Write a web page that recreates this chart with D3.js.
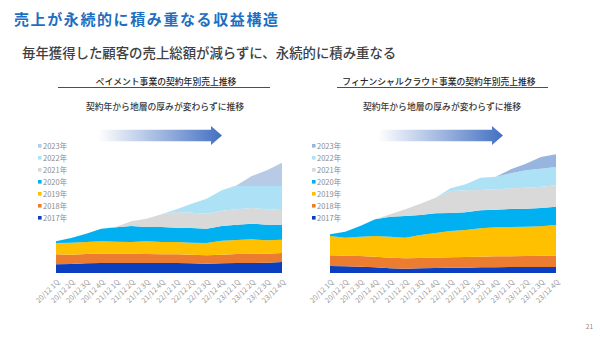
<!DOCTYPE html>
<html lang="ja">
<head>
<meta charset="utf-8">
<script src="https://cdn.jsdelivr.net/npm/d3@7"></script>
<style>
  html, body { margin: 0; padding: 0; background: #fff; }
  svg { display: block; font-family: "Noto Sans CJK JP", "Noto Sans", sans-serif; }
</style>
</head>
<body>
<svg id="page" width="600" height="338"></svg>
<script>
// Quarter labels along the x axis
const quarters = [
  "20/12 1Q", "20/12 2Q", "20/12 3Q", "20/12 4Q",
  "21/12 1Q", "21/12 2Q", "21/12 3Q", "21/12 4Q",
  "22/12 1Q", "22/12 2Q", "22/12 3Q", "22/12 4Q",
  "23/12 1Q", "23/12 2Q", "23/12 3Q", "23/12 4Q"
];

// Contract-year cohorts (stack order, bottom to top)
const cohortYears = ["2017年", "2018年", "2019年", "2020年", "2021年", "2022年", "2023年"];

// Payment business: quarterly revenue by contract-year cohort (relative units)
const pay2017 = [26, 27, 29, 30, 30, 30, 30, 30, 30, 29, 28, 29, 30, 30, 31, 33];
const pay2018 = [30, 28, 28, 28, 28, 28, 27, 26, 26, 26, 25, 26, 27, 28, 27, 27];
const pay2019 = [34, 36, 36, 37, 36, 35, 38, 37, 37, 36, 37, 42, 42, 43, 40, 40];
const pay2020 = [5, 14, 25, 38, 43, 48, 43, 45, 43, 44, 43, 44, 46, 47, 47, 45];
const pay2021 = [0, 0, 0, 0, 2, 14, 25, 38, 47, 46, 45, 46, 46, 47, 46, 44];
const pay2022 = [0, 0, 0, 0, 0, 0, 0, 0, 8, 27, 45, 61, 70, 66, 70, 72];
const pay2023 = [0, 0, 0, 0, 0, 0, 0, 0, 0, 0, 0, 0, 2, 30, 47, 70];

// Financial cloud business: quarterly revenue by contract-year cohort (relative units)
const fin2017 = [21, 20, 19, 17, 14, 13, 14, 15, 16, 16, 17, 17, 18, 18, 18, 18];
const fin2018 = [32, 32, 32, 32, 32, 31, 31, 31, 31, 32, 32, 33, 32, 33, 34, 34];
const fin2019 = [58, 54, 58, 62, 63, 62, 69, 74, 79, 81, 85, 87, 88, 88, 88, 92];
const fin2020 = [5, 18, 32, 50, 60, 65, 60, 59, 54, 53, 54, 53, 54, 54, 55, 55];
const fin2021 = [0, 0, 0, 0, 7, 20, 34, 47, 66, 66, 61, 61, 62, 63, 64, 64];
const fin2022 = [0, 0, 0, 0, 0, 0, 0, 0, 8, 18, 37, 38, 45, 52, 54, 55];
const fin2023 = [0, 0, 0, 0, 0, 0, 0, 0, 0, 0, 0, 0, 12, 20, 35, 38];

// Headings
const pageTitle = "売上が永続的に積み重なる収益構造";
const pageLead = "毎年獲得した顧客の売上総額が減らずに、永続的に積み重なる";
const paymentTitle = "ペイメント事業の契約年別売上推移";
const financeTitle = "フィナンシャルクラウド事業の契約年別売上推移";
const chartNote = "契約年から地層の厚みが変わらずに推移";
const pageNumber = "21";

const paySeries = [pay2017, pay2018, pay2019, pay2020, pay2021, pay2022, pay2023];
const finSeries = [fin2017, fin2018, fin2019, fin2020, fin2021, fin2022, fin2023];

function toRows(seriesList) {
  return quarters.map((q, i) => {
    const row = { q };
    cohortYears.forEach((k, j) => { row[k] = seriesList[j][i]; });
    return row;
  });
}

const svg = d3.select("#page");
const defs = svg.append("defs");

// Arrow gradient: fades in from white to blue
const grad = defs.append("linearGradient")
  .attr("id", "arrowGrad").attr("x1", "0%").attr("x2", "100%").attr("y1", "0%").attr("y2", "0%");
grad.append("stop").attr("offset", "0%").attr("stop-color", "#ffffff");
grad.append("stop").attr("offset", "100%").attr("stop-color", "#4370c2");

// Page title and lead
svg.append("text")
  .attr("x", 14).attr("y", 25)
  .attr("font-size", 15).attr("font-weight", 700)
  .attr("letter-spacing", 1.6)
  .attr("fill", "#1d6fc1")
  .text(pageTitle);

svg.append("text")
  .attr("x", 22).attr("y", 58)
  .attr("font-size", 13.4).attr("font-weight", 500)
  .attr("fill", "#404040")
  .text(pageLead);

svg.append("text")
  .attr("x", 593).attr("y", 329)
  .attr("text-anchor", "end")
  .attr("font-size", 6.5).attr("fill", "#8a8a8a")
  .text(pageNumber);

const y = d3.scaleLinear().domain([0, 360]).range([273, 153]);

const charts = [
  {
    title: paymentTitle, series: paySeries,
    x0: 56, x1: 282, titleCx: 166, line: [58, 270], noteCx: 165,
    arrow: [98, 222], legendX: 38,
    colors: ["#0b3fbf", "#ec7c30", "#ffc000", "#00b0f0", "#d9d9d9", "#ade2f6", "#b8cbe6"]
  },
  {
    title: financeTitle, series: finSeries,
    x0: 330, x1: 556, titleCx: 439, line: [337, 548], noteCx: 442,
    arrow: [378, 503], legendX: 312,
    colors: ["#0b3fbf", "#ec7c30", "#ffc000", "#00b0f0", "#d9d9d9", "#ade2f6", "#98b5df"]
  }
];

charts.forEach(c => {
  const g = svg.append("g");

  // Heading with underline
  g.append("text")
    .attr("x", c.titleCx).attr("y", 84.5)
    .attr("text-anchor", "middle")
    .attr("font-size", 8.8).attr("font-weight", 500)
    .attr("fill", "#262626")
    .text(c.title);
  g.append("line")
    .attr("x1", c.line[0]).attr("x2", c.line[1])
    .attr("y1", 87.5).attr("y2", 87.5)
    .attr("stroke", "#3a3a3a").attr("stroke-width", 0.9);

  g.append("text")
    .attr("x", c.noteCx).attr("y", 110)
    .attr("text-anchor", "middle")
    .attr("font-size", 8.8).attr("font-weight", 500)
    .attr("fill", "#3a3a3a")
    .text(chartNote);

  // Gradient arrow
  const ax0 = c.arrow[0], ax1 = c.arrow[1], ay = 135.5;
  const head = 11, bodyH = 5.8, headH = 9.5;
  const arrowPath = d3.path();
  arrowPath.moveTo(ax0, ay - bodyH);
  arrowPath.lineTo(ax1 - head, ay - bodyH);
  arrowPath.lineTo(ax1 - head, ay - headH);
  arrowPath.lineTo(ax1, ay);
  arrowPath.lineTo(ax1 - head, ay + headH);
  arrowPath.lineTo(ax1 - head, ay + bodyH);
  arrowPath.lineTo(ax0, ay + bodyH);
  arrowPath.closePath();
  g.append("path").attr("d", arrowPath.toString()).attr("fill", "url(#arrowGrad)");

  // Stacked area chart
  const x = d3.scalePoint().domain(quarters).range([c.x0, c.x1]);
  const stacked = d3.stack().keys(cohortYears)(toRows(c.series));
  const area = d3.area()
    .x(d => x(d.data.q))
    .y0(d => y(d[0]))
    .y1(d => y(d[1]))
    .curve(d3.curveLinear);

  g.append("g").selectAll("path")
    .data(stacked)
    .join("path")
    .attr("d", area)
    .attr("fill", (d, i) => c.colors[i]);

  // Rotated quarter labels
  const axis = g.append("g")
    .attr("transform", "translate(0,281)")
    .call(d3.axisBottom(x).tickSize(0));
  axis.select(".domain").remove();
  axis.selectAll("text")
    .attr("x", 0).attr("y", 0).attr("dy", "0.3em")
    .attr("text-anchor", "end")
    .attr("transform", "translate(2,0) rotate(-45)")
    .attr("font-size", 7.2)
    .attr("font-family", "\"Noto Sans CJK JP\", sans-serif")
    .attr("fill", "#9a9a9a");

  // Legend, newest cohort on top
  const legend = g.append("g");
  const items = cohortYears.map((k, i) => ({ k, color: c.colors[i] })).reverse();
  items.forEach((d, i) => {
    const ly = 146 + i * 12;
    legend.append("rect")
      .attr("x", c.legendX).attr("y", ly - 2)
      .attr("width", 3.6).attr("height", 3.6)
      .attr("fill", d.color);
    legend.append("text")
      .attr("x", c.legendX + 5).attr("y", ly)
      .attr("dy", "0.35em")
      .attr("font-size", 7.5)
      .attr("fill", "#8c8c8c")
      .text(d.k);
  });
});
</script>
</body>
</html>
